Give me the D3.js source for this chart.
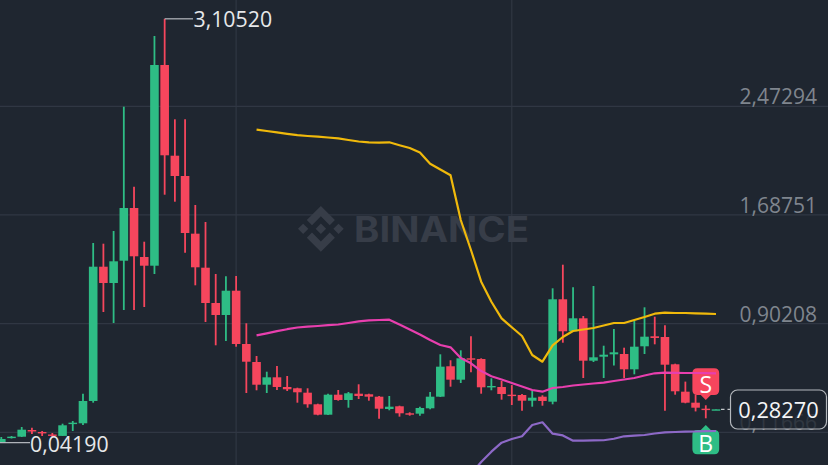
<!DOCTYPE html>
<html><head><meta charset="utf-8">
<script src="https://cdnjs.cloudflare.com/ajax/libs/d3/7.8.5/d3.min.js"></script>
<style>html,body{margin:0;padding:0;background:#1f2630;overflow:hidden}svg{display:block}text{font-family:"Open Sans",sans-serif}</style>
</head><body><div id="chart"></div>
<script>
const priceTicks = [2.47294, 1.68751, 0.90208, 0.11666];
const timeTicks = [23, 50];
const highLabel = "3,10520", lowLabel = "0,04190", lastLabel = "0,28270";
const lastPrice = 0.2827, highPrice = 3.1052, lowPrice = 0.0419;

const candleOpen = [0.0450,0.0755,0.0849,0.1333,0.1189,0.1008,0.0907,0.1789,0.1818,0.3430,1.3136,1.1958,1.3570,1.7379,1.3837,1.3208,2.7715,2.1159,1.9692,1.5522,1.3064,1.0512,0.9645,1.1401,0.7549,0.6248,0.4606,0.5141,0.4442,0.4348,0.4030,0.3191,0.2439,0.3885,0.3502,0.3957,0.3914,0.3741,0.2851,0.3047,0.2541,0.2512,0.2902,0.3741,0.5939,0.4970,0.6515,0.6464,0.4419,0.4441,0.3885,0.3863,0.3451,0.3741,0.3379,1.0780,0.8467,0.9406,0.6342,0.6631,0.6803,0.6826,0.5720,0.7383,0.8106,0.8055,0.6082,0.4102,0.3307,0.2873,0.2801];
const candleHigh = [0.0827,0.0900,0.1550,0.1500,0.1261,0.1116,0.1789,0.1984,0.3958,1.4849,1.4799,1.5716,2.4701,1.8918,1.4943,2.9811,3.1052,2.3790,2.3790,1.7596,1.6367,1.2608,1.2442,1.2464,0.9046,0.6681,0.5546,0.5958,0.5237,0.4391,0.4348,0.3234,0.3957,0.4225,0.4080,0.4637,0.3957,0.3791,0.3791,0.3090,0.2612,0.3018,0.4080,0.6804,0.6373,0.7093,0.8106,0.6515,0.5070,0.4875,0.4580,0.3936,0.4167,0.3842,1.1575,1.3281,1.1647,0.9573,1.1741,0.7426,0.8636,0.7282,0.9262,1.0201,0.9522,0.8900,0.6125,0.4830,0.3885,0.3119,0.2827];
const candleLow = [0.0419,0.0719,0.0827,0.1044,0.0900,0.0827,0.0900,0.1261,0.1694,0.3307,0.9862,0.9067,1.0006,1.0006,1.0223,1.2608,1.8340,1.7834,1.4148,1.1791,0.9140,0.7455,0.7766,0.7354,0.4008,0.4203,0.4008,0.4221,0.4153,0.3307,0.2945,0.2396,0.2418,0.3451,0.2945,0.3574,0.3451,0.2151,0.2757,0.2298,0.2367,0.2367,0.2830,0.3719,0.4463,0.4731,0.5505,0.3957,0.4203,0.3524,0.3141,0.2730,0.3018,0.3090,0.3191,0.7643,0.8453,0.5092,0.6248,0.5092,0.5987,0.5092,0.5358,0.6826,0.7526,0.2730,0.3885,0.3263,0.2675,0.2178,0.2801];
const candleClose = [0.0682,0.0849,0.1355,0.1225,0.1095,0.0936,0.1673,0.1861,0.3430,1.3136,1.1958,1.3526,1.7379,1.3888,1.3208,2.7715,2.1188,1.9692,1.5572,1.3093,1.0512,0.9645,1.1401,0.7549,0.6269,0.4606,0.5141,0.4442,0.4275,0.4059,0.3191,0.2439,0.3885,0.3502,0.3986,0.3791,0.3741,0.2873,0.3018,0.2541,0.2439,0.2924,0.3741,0.5910,0.4970,0.6515,0.6414,0.4419,0.4513,0.3936,0.3813,0.3451,0.3668,0.3430,1.0780,0.8467,0.9406,0.6342,0.6587,0.6775,0.6947,0.5720,0.7354,0.8077,0.7983,0.6053,0.4131,0.3307,0.2945,0.2801,0.2827];

const maStart = 25;
const maYellow = [2.3038,2.2944,2.2850,2.2742,2.2641,2.2583,2.2540,2.2475,2.2410,2.2294,2.2186,2.2121,2.2099,2.2128,2.1918,2.1716,2.1390,2.0580,2.0161,1.9742,1.6511,1.4343,1.2052,1.0606,0.9406,0.8756,0.8127,0.6754,0.6269,0.7455,0.8055,0.8489,0.8597,0.8706,0.8886,0.9067,0.9067,0.9284,0.9501,0.9739,0.9811,0.9790,0.9790,0.9768,0.9739,0.9717];
const maPink = [0.8177,0.8322,0.8474,0.8618,0.8741,0.8806,0.8850,0.8908,0.8958,0.9067,0.9190,0.9255,0.9284,0.9306,0.8958,0.8597,0.8235,0.7838,0.7476,0.7310,0.6536,0.6153,0.5597,0.5214,0.4982,0.4731,0.4478,0.4225,0.4102,0.4369,0.4441,0.4550,0.4622,0.4695,0.4752,0.4875,0.4984,0.5092,0.5273,0.5432,0.5476,0.5468,0.5454,0.5454,0.5440,0.5432];
const purpleStart = 46;
const maPurple = [-0.1847,-0.0980,-0.0235,0.0415,0.0683,0.0878,0.1697,0.1892,0.1069,0.0939,0.0563,0.0570,0.0577,0.0592,0.0700,0.0878,0.0922,0.0972,0.1080,0.1167,0.1189,0.1210,0.1225,0.1247,0.1261];

const W = 828, H = 465;
const UP = "#2ebd85", DOWN = "#f6465d", GRID = "#303743", BG = "#1f2630";
const FONT = '"Open Sans",sans-serif';
const x = d3.scaleLinear().domain([0, 70]).range([1.3, 716]);
const y = d3.scaleLinear().domain([0.11666, 2.47294]).range([432.3, 106.3]);

const svg = d3.select("#chart").append("svg").attr("width", W).attr("height", H);
svg.append("rect").attr("width", W).attr("height", H).attr("fill", BG);

// grid + labels through axes
const xg = svg.append("g").call(d3.axisBottom(x).tickValues(timeTicks).tickSize(H).tickFormat("").offset(0));
xg.select(".domain").remove();
xg.selectAll("line").attr("stroke", GRID).attr("stroke-width", 1.2);

const yg = svg.append("g").call(
  d3.axisRight(y).tickValues(priceTicks).tickSize(W).offset(0)
    .tickFormat(d => d3.format(".5f")(d).replace(".", ",")));
yg.select(".domain").remove();
yg.selectAll("line").attr("stroke", GRID).attr("stroke-width", 1.2);
yg.selectAll("text").attr("x", 817).attr("dy", "-0.1em").attr("text-anchor", "end")
  .attr("fill", "#7f858e").attr("font-size", 21).style("font-family", FONT);

// watermark
const logo = svg.append("g").attr("transform", "translate(298,206) scale(0.361)").attr("fill", "#373d48");
logo.append("path").attr("d", "m38.73 53.2 24.59-24.58 24.6 24.6 14.3-14.31L63.32 0 24.43 38.9zM0 63.31l14.3-14.31 14.31 14.31-14.31 14.3zM38.73 73.41l24.59 24.59 24.6-24.6 14.31 14.29-38.9 38.91-38.91-38.88zM98 63.31l14.3-14.31 14.31 14.3-14.31 14.32z");
logo.append("path").attr("d", "M77.83 63.3 63.32 48.78 52.59 59.51l-1.24 1.23-2.54 2.54 14.51 14.52L77.83 63.3z");
svg.append("text").text("BINANCE").attr("x", 354).attr("y", 241.5).attr("fill", "#373d48")
  .attr("font-size", 35).attr("font-weight", 700).attr("textLength", 175).attr("lengthAdjust", "spacingAndGlyphs")
  .style("font-family", "Inter,sans-serif");

// candles
const idx = d3.range(candleOpen.length);
const color = i => candleClose[i] >= candleOpen[i] ? UP : DOWN;
const cg = svg.append("g");
cg.selectAll("line").data(idx).join("line")
  .attr("x1", i => x(i)).attr("x2", i => x(i))
  .attr("y1", i => y(candleHigh[i])).attr("y2", i => y(candleLow[i]))
  .attr("stroke", color).attr("stroke-width", 1.8);
const bodyW = 8.6;
cg.selectAll("rect").data(idx).join("rect")
  .attr("x", i => x(i) - bodyW / 2).attr("width", bodyW)
  .attr("y", i => Math.min(y(candleOpen[i]), y(candleClose[i])))
  .attr("height", i => Math.max(1.4, Math.abs(y(candleOpen[i]) - y(candleClose[i]))))
  .attr("fill", color);

// trade markers
function marker(cx, tip, dir, h, fill) {
  const w = 13.4, r = 5, g = 5 * dir, base = tip - g, far = base - h * dir, p = d3.path();
  p.moveTo(cx, tip);
  p.lineTo(cx + 5, base);
  p.lineTo(cx + w - r, base);
  p.quadraticCurveTo(cx + w, base, cx + w, base - r * dir);
  p.lineTo(cx + w, far + r * dir);
  p.quadraticCurveTo(cx + w, far, cx + w - r, far);
  p.lineTo(cx - w + r, far);
  p.quadraticCurveTo(cx - w, far, cx - w, far + r * dir);
  p.lineTo(cx - w, base - r * dir);
  p.quadraticCurveTo(cx - w, base, cx - w + r, base);
  p.lineTo(cx - 5, base);
  p.closePath();
  svg.append("path").attr("d", p.toString()).attr("fill", fill);
}
const sellX = x(69);
marker(sellX, y(candleHigh[69]) - 5.3, 1, 26.7, DOWN);
marker(sellX, y(candleLow[69]) + 6.7, -1, 24.3, UP);

// moving averages
const lineFrom = start => d3.line().x((d, i) => x(start + i)).y(d => y(d));
const addLine = (vals, start, col) => svg.append("path").attr("d", lineFrom(start)(vals))
  .attr("fill", "none").attr("stroke", col).attr("stroke-width", 2.2).attr("stroke-linejoin", "round");
addLine(maYellow, maStart, "#f0b90b");
addLine(maPink, maStart, "#e83fae");
addLine(maPurple, purpleStart, "#8d69c7");

// marker letters
svg.append("text").text("S").attr("x", sellX).attr("y", y(candleHigh[69]) - 21.5)
  .attr("text-anchor", "middle").attr("dominant-baseline", "central").attr("fill", "#fff").attr("font-size", 23);
svg.append("text").text("B").attr("x", sellX).attr("y", y(candleLow[69]) + 24.5)
  .attr("text-anchor", "middle").attr("dominant-baseline", "central").attr("fill", "#fff").attr("font-size", 23);

// high / low callouts
svg.append("line").attr("x1", x(16)).attr("x2", 193).attr("y1", y(highPrice)).attr("y2", y(highPrice))
  .attr("stroke", "#b7bbc0").attr("stroke-width", 1.2);
svg.append("text").text(highLabel).attr("x", 193.5).attr("y", y(highPrice)).attr("dominant-baseline", "central")
  .attr("fill", "#e6e8ea").attr("font-size", 21.3);
svg.append("line").attr("x1", 0).attr("x2", 30).attr("y1", y(lowPrice)).attr("y2", y(lowPrice))
  .attr("stroke", "#b7bbc0").attr("stroke-width", 1.2);
svg.append("text").text(lowLabel).attr("x", 30).attr("y", y(lowPrice) + 1).attr("dominant-baseline", "central")
  .attr("fill", "#e6e8ea").attr("font-size", 21.3);

// last price tag
svg.append("line").attr("x1", x(70) + 5).attr("x2", 730).attr("y1", y(lastPrice)).attr("y2", y(lastPrice))
  .attr("stroke", "#c4c7cb").attr("stroke-width", 1.2).attr("stroke-dasharray", "3.5,3");
svg.append("rect").attr("x", 730.5).attr("y", 390).attr("width", 96).attr("height", 39).attr("rx", 7)
  .attr("fill", BG).attr("fill-opacity", 0.82).attr("stroke", "#b4b8bd").attr("stroke-width", 1.2);
svg.append("text").text(lastLabel).attr("x", 778.5).attr("y", y(lastPrice)).attr("text-anchor", "middle")
  .attr("dominant-baseline", "central").attr("fill", "#f4f5f6").attr("font-size", 21.8);
</script></body></html>
